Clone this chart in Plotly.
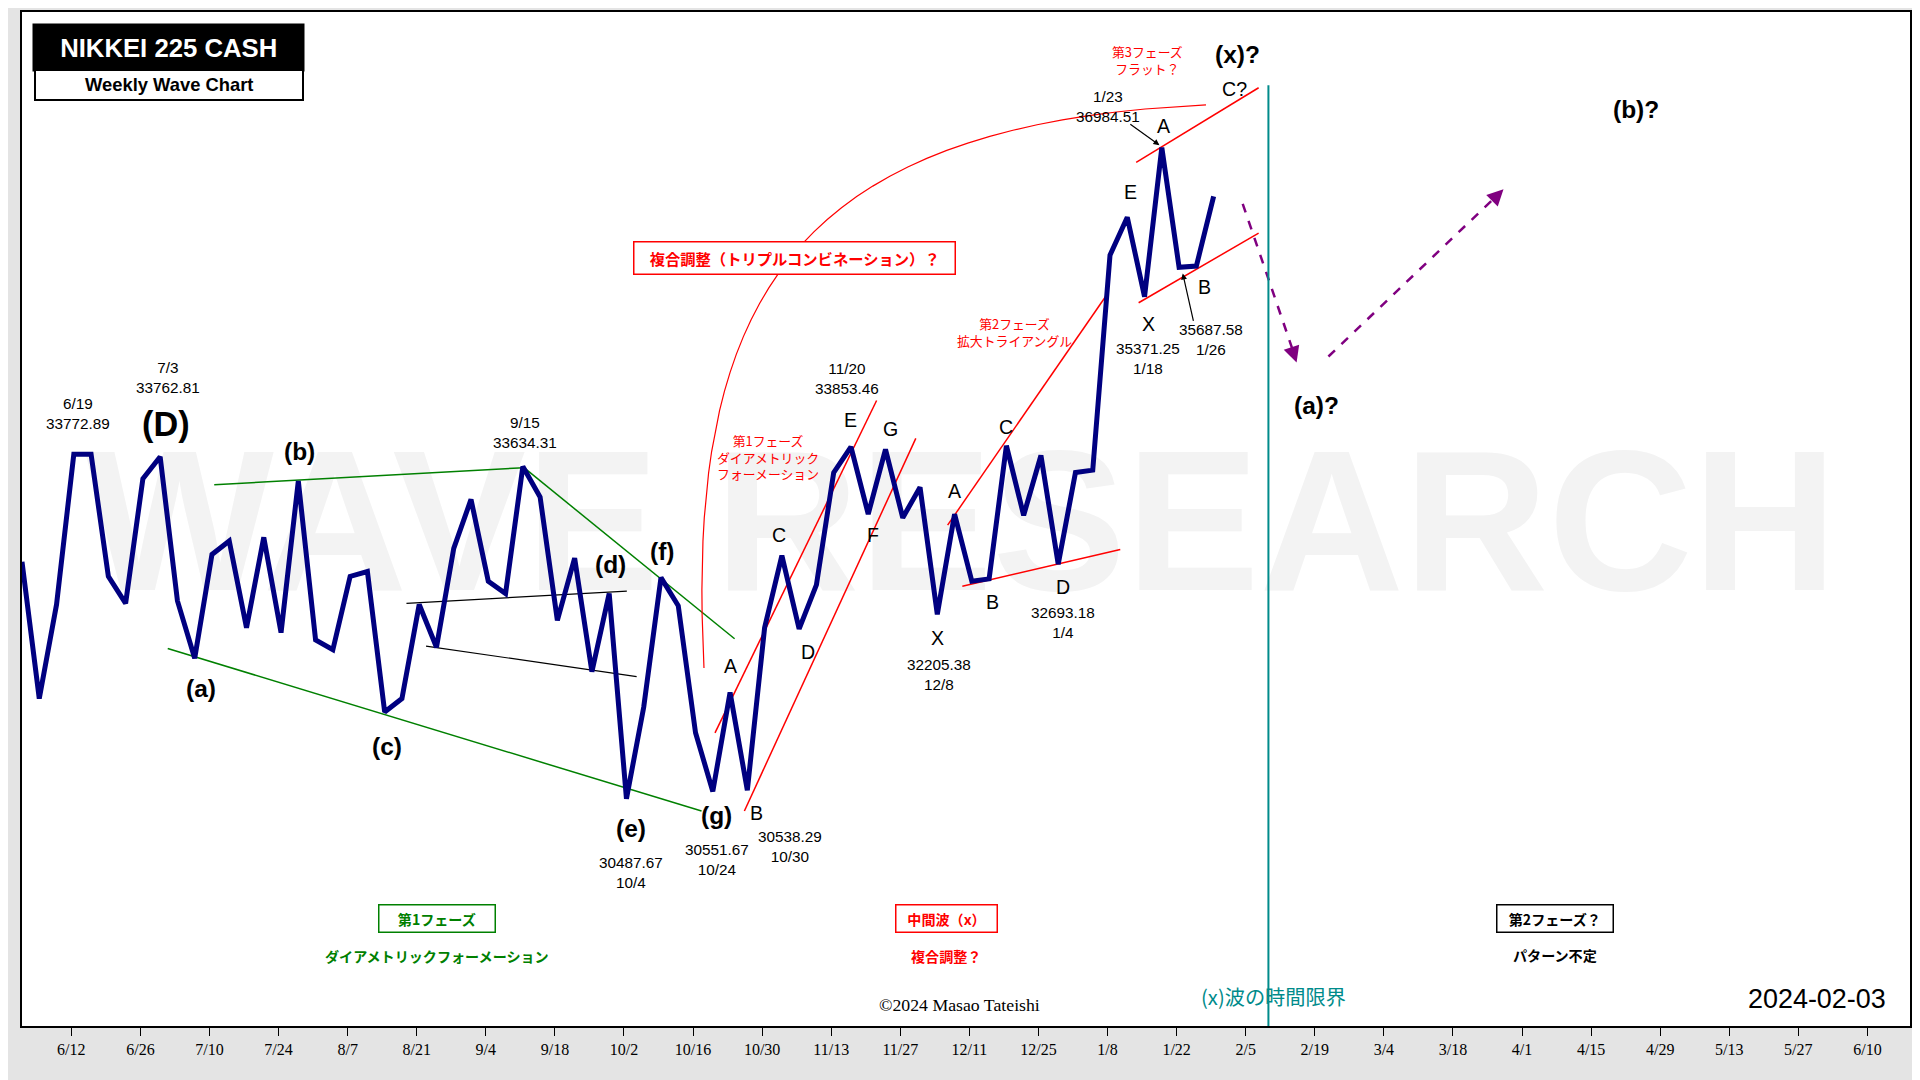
import pandas as pd
import plotly.graph_objects as go

# weekly wave chart values
dates = pd.date_range('2023-06-02', periods=70, freq='84h')
prices = [32816, 31472, 32396, 33872, 33872, 32672, 32408, 33632, 33848, 32432,
          31868, 32888, 33020, 32168, 33056, 32120, 33608, 32048, 31952, 32672,
          32720, 31340, 31472, 32396, 31976, 32948, 33428, 32624, 32504, 33752,
          33452, 32240, 32852, 31736, 32504, 30488, 31388, 32660, 32384, 31136,
          30560, 31532, 30572, 32168, 32876, 32156, 32588, 33692, 33944, 33284,
          33920, 33248, 33548, 32300, 33284, 32624, 32648, 33956, 33272, 33860,
          32792, 33692, 33716, 35828, 36200, 35420, 36884, 35708, 35720, 36404]
tick_dates = pd.date_range('2023-06-12', '2024-06-10', freq='14D')
tick_text = [f'{d.month}/{d.day}' for d in tick_dates]

S = 1.2245  # reference drawing scale


def X(px):
    return str(pd.Timestamp('2023-06-02') + pd.Timedelta(days=(px - 18) / 4.03))


def Y(py):
    return 30488 + (652 - py) * 12.0


fig = go.Figure()

# watermark behind everything
fig.add_trace(go.Scatter(x=[X(785)], y=[Y(440)], mode='text', text=['<b>WAVE RESEARCH</b>'],
                         textfont=dict(size=200, color='#f3f3f3', family='Liberation Sans'),
                         hoverinfo='skip', showlegend=False))

def seg(p, color, width=1.5, dash='solid'):
    fig.add_trace(go.Scatter(x=[X(a) for a, b in p], y=[Y(b) for a, b in p], mode='lines',
                             line=dict(color=color, width=width, dash=dash),
                             hoverinfo='skip', showlegend=False))

green = '#008000'
seg([(175, 395), (428, 381)], green)
seg([(428, 381), (600, 521)], green)
seg([(137, 529), (573, 662)], green)
seg([(332, 492), (512, 482)], 'black', 1.2)
seg([(348, 527), (520, 552)], 'black', 1.2)
red = '#ff0000'
seg([(584, 598), (716, 326)], red)
seg([(608, 662), (748, 357)], red)
seg([(774, 428), (905, 238)], red)
seg([(786, 478), (915, 448)], red)
seg([(928, 131), (1028, 70)], red)
seg([(930, 246), (1028, 189)], red)

# arc of the combination
P0, C1, C2, P3 = (575, 545), (560, 250), (640, 100), (985, 84)
arc = []
for i in range(41):
    t = i / 40
    a = (1 - t) ** 3 * P0[0] + 3 * (1 - t) ** 2 * t * C1[0] + 3 * (1 - t) * t ** 2 * C2[0] + t ** 3 * P3[0]
    b = (1 - t) ** 3 * P0[1] + 3 * (1 - t) ** 2 * t * C1[1] + 3 * (1 - t) * t ** 2 * C2[1] + t ** 3 * P3[1]
    arc.append((a, b))
seg(arc, red, 1.2)

purple = '#800080'
seg([(1015, 165), (1057, 288)], purple, 2.5, 'dash')
seg([(1085, 290), (1224, 157)], purple, 2.5, 'dash')

fig.add_trace(go.Scatter(x=dates, y=prices, mode='lines',
                         line=dict(color='#000080', width=5), showlegend=False))

ann = []

def txt(px, py, text, size=13, color='black', bold=False, family='Liberation Sans, Arial'):
    if bold:
        text = f'<b>{text}</b>'
    ann.append(dict(x=X(px), y=Y(py), text=text, showarrow=False,
                    font=dict(size=size * S, color=color, family=family)))

def box(px, py, text, size, color, w, h, fg=None):
    ann.append(dict(x=X(px), y=Y(py), text=text, showarrow=False, bordercolor=color,
                    borderwidth=1.5, bgcolor='white', width=w * S, height=h * S,
                    font=dict(size=size * S, color=fg or color, family='Noto Sans CJK JP')))

for px, py, t in [(64, 337, '6/19<br>33772.89'), (137, 307, '7/3<br>33762.81'),
                  (429, 352, '9/15<br>33634.31'), (515, 712, '30487.67<br>10/4'),
                  (586, 702, '30551.67<br>10/24'), (645, 691, '30538.29<br>10/30'),
                  (692, 308, '11/20<br>33853.46'), (767, 550, '32205.38<br>12/8'),
                  (868, 508, '32693.18<br>1/4'), (938, 292, '35371.25<br>1/18'),
                  (989, 276, '35687.58<br>1/26'), (905, 85, '1/23<br>36984.51')]:
    txt(px, py, t, 12.5)

txt(136, 345, '(D)', 28, bold=True)
for px, py, t in [(245, 368, '(b)'), (164, 562, '(a)'), (316, 609, '(c)'), (499, 460, '(d)'),
                  (515, 676, '(e)'), (541, 450, '(f)'), (585, 666, '(g)'), (1011, 43, '(x)?'),
                  (1336, 88, '(b)?'), (1075, 330, '(a)?')]:
    txt(px, py, t, 20, bold=True)

for px, py, t in [(618, 664, 'B'), (597, 543, 'A'), (636, 436, 'C'), (660, 532, 'D'),
                  (695, 342, 'E'), (713, 436, 'F'), (727, 349, 'G'), (766, 520, 'X'),
                  (780, 400, 'A'), (811, 491, 'B'), (822, 348, 'C'), (868, 479, 'D'),
                  (923, 155, 'E'), (938, 263, 'X'), (951, 101, 'A'), (984, 233, 'B'),
                  (1008, 71, 'C?')]:
    txt(px, py, t, 16)

jp = 'Noto Sans CJK JP'
txt(627, 372, '第1フェーズ<br>ダイアメトリック<br>フォーメーション', 10.5, red, family=jp)
txt(829, 270, '第2フェーズ<br>拡大トライアングル', 10.5, red, family=jp)
txt(937, 47, '第3フェーズ<br>フラット？', 10.5, red, family=jp)

# arrows to the 1/23 and 1/26 extremes
ann.append(dict(x=X(947), y=Y(117), ax=(922 - 947) * S, ay=(99 - 117) * S, text='', showarrow=True,
                arrowhead=2, arrowsize=1, arrowwidth=1.2, arrowcolor='black'))
ann.append(dict(x=X(966), y=Y(222), ax=(975 - 966) * S, ay=(262 - 222) * S, text='', showarrow=True,
                arrowhead=2, arrowsize=1, arrowwidth=1.2, arrowcolor='black'))
# purple arrow heads
ann.append(dict(x=X(1059), y=Y(295), ax=-3, ay=-9, text='', showarrow=True,
                arrowhead=2, arrowsize=1.3, arrowwidth=2.5, arrowcolor=purple))
ann.append(dict(x=X(1228), y=Y(153), ax=-8, ay=8, text='', showarrow=True,
                arrowhead=2, arrowsize=1.3, arrowwidth=2.5, arrowcolor=purple))

box(649, 209, '<b>複合調整（トリプルコンビネーション）？</b>', 12.5, red, 260, 24)
box(357, 750, '<b>第1フェーズ</b>', 11.5, green, 92, 20)
txt(357, 781, '<b>ダイアメトリックフォーメーション</b>', 11.5, green, family=jp)
box(773, 750, '<b>中間波（x）</b>', 11.5, red, 80, 20)
txt(773, 781, '<b>複合調整？</b>', 11.5, red, family=jp)
box(1270, 750, '<b>第2フェーズ？</b>', 11.5, 'black', 92, 20)
txt(1270, 780, '<b>パターン不定</b>', 11.5, 'black', family=jp)

teal = '#008b8b'
txt(1040, 814, '(x)波の時間限界', 16.5, teal, family=jp)
txt(784, 821, '©2024 Masao Tateishi', 14.5, family='Liberation Serif, Times New Roman')
txt(1484, 816, '2024-02-03', 22)

# title block
ann.append(dict(x=X(138), y=Y(37), text='<b>NIKKEI 225 CASH</b>', showarrow=False, bgcolor='black',
                width=220 * S, height=37 * S, font=dict(size=21 * S, color='white', family='Liberation Sans')))
ann.append(dict(x=X(138), y=Y(67.5), text='<b>Weekly Wave Chart</b>', showarrow=False, bgcolor='white',
                bordercolor='black', borderwidth=2, width=216 * S, height=21 * S,
                font=dict(size=15 * S, color='black', family='Liberation Sans')))

fig.add_shape(type='line', x0=X(1036), x1=X(1036), y0=Y(68), y1=Y(838),
              line=dict(color=teal, width=2))

fig.update_layout(
    width=1920, height=1080,
    margin=dict(l=14, r=18, t=2, b=62),
    paper_bgcolor='#e4e4e4', plot_bgcolor='white',
    annotations=ann, showlegend=False,
)
fig.update_xaxes(range=[X(18), X(1560)], tickvals=tick_dates, ticktext=tick_text,
                 ticks='outside', ticklen=8, tickcolor='black', showgrid=False,
                 showline=True, linecolor='black', linewidth=1.5, mirror=True,
                 tickfont=dict(size=16, family='Liberation Serif, Times New Roman', color='black'))
fig.update_yaxes(range=[Y(838), Y(8)], showticklabels=False, showgrid=False, zeroline=False,
                 showline=True, linecolor='black', linewidth=1.5, mirror=True)

fig.write_html('out.html')
